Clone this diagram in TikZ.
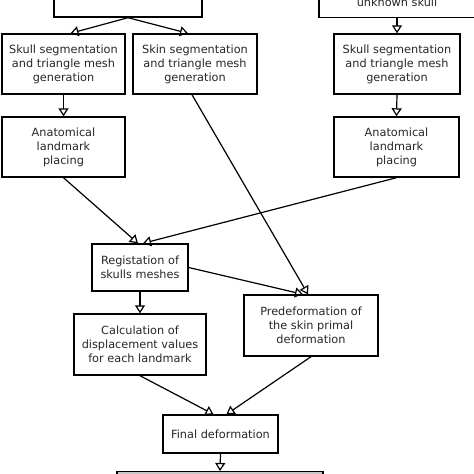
\documentclass[tikz,border=0pt]{standalone}
\usepackage{fontspec}
\setmainfont{DejaVu Sans}
\usetikzlibrary{arrows.meta}

\tikzset{
    stagebox/.style={draw, line width=1.4pt, align=center, inner sep=2pt,
        text=black!85, font=\fontsize{11.3}{14}\selectfont},
    flow/.style={-{Triangle[open, width=10pt, length=8pt]}, line width=1.2pt},
}

\begin{document}
\begin{tikzpicture}[x=1pt, y=-1pt]
    \useasboundingbox (0,0) rectangle (474,474);
    \clip (0,0) rectangle (474,474);

    % top row (cut by the frame)
    \node[stagebox, minimum width=148pt, minimum height=47pt] (topL) at (128,-6.5) {};
    \node[stagebox, minimum width=156pt, minimum height=48pt, anchor=south] (topR) at (397,18) {\\[13pt]unknown skull};

    % segmentation
    \node[stagebox, minimum width=123pt, minimum height=60pt] (skullL) at (63.5,64) {Skull segmentation\\and triangle mesh\\generation};
    \node[stagebox, minimum width=124pt, minimum height=60pt] (skinM) at (195,64) {Skin segmentation\\and triangle mesh\\generation};
    \node[stagebox, minimum width=126pt, minimum height=60pt] (skullR) at (397,64) {Skull segmentation\\and triangle mesh\\generation};

    % landmarks
    \node[stagebox, minimum width=123pt, minimum height=60pt] (landL) at (63.5,147) {Anatomical\\landmark\\placing};
    \node[stagebox, minimum width=125pt, minimum height=60pt] (landR) at (396.5,147) {Anatomical\\landmark\\placing};

    % registration and deformation
    \node[stagebox, minimum width=96pt, minimum height=47pt] (reg) at (140,267.5) {Registation of\\skulls meshes};
    \node[stagebox, minimum width=134pt, minimum height=61pt] (predef) at (311,325.5) {Predeformation of\\the skin primal\\deformation};
    \node[stagebox, minimum width=132pt, minimum height=61pt] (calc) at (140,344.5) {Calculation of\\displacement values\\for each landmark};
    \node[stagebox, minimum width=115pt, minimum height=38pt] (final) at (220.5,434) {Final deformation};
    \node[stagebox, fill=black!22, minimum width=206pt, minimum height=40pt, anchor=north] (result) at (220,471) {};

    % connectors
    \draw[flow] (topL.south) -- ([xshift=7pt]skullL.north);
    \draw[flow] (topL.south) -- ([xshift=-7pt]skinM.north);
    \draw[flow] (topR.south) -- (skullR.north);
    \draw[flow] (skullL.south) -- (landL.north);
    \draw[flow] (skullR.south) -- (landR.north);
    \draw[flow] (landL.south) -- ([xshift=-2pt]reg.north);
    \draw[flow] (landR.south) -- ([xshift=3pt]reg.north);
    \draw[flow] ([xshift=-3pt]skinM.south) -- ([xshift=-3pt]predef.north);
    \draw[flow] (reg.east) -- ([xshift=-8pt]predef.north);
    \draw[flow] (reg.south) -- (calc.north);
    \draw[flow] (calc.south) -- ([xshift=-7pt]final.north);
    \draw[flow] (predef.south) -- ([xshift=6pt]final.north);
    \draw[flow] (final.south) -- (result.north);
\end{tikzpicture}
\end{document}
